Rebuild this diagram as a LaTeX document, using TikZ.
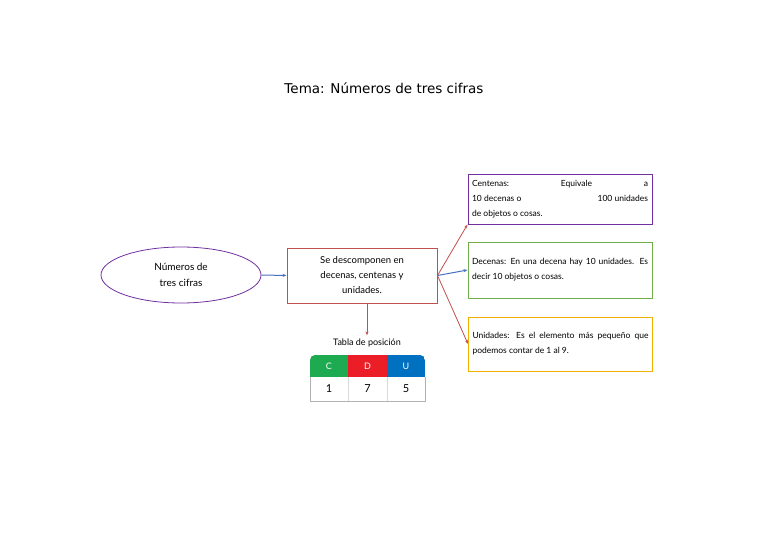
\documentclass[tikz,border=0pt]{standalone}
\usepackage{fontspec}
\setmainfont{Lato}
\newfontfamily\titlefont{DejaVu Sans}
\usetikzlibrary{shapes.geometric,positioning,arrows.meta}
\definecolor{cpurple}{RGB}{112,48,160}
\definecolor{cred}{RGB}{192,80,77}
\definecolor{cblue}{RGB}{68,114,196}
\definecolor{cgreen}{RGB}{112,173,71}
\definecolor{corange}{RGB}{240,176,0}
\definecolor{tgreen}{RGB}{30,170,80}
\definecolor{tred}{RGB}{235,30,40}
\definecolor{tblue}{RGB}{0,112,192}
\tikzset{
  infobox/.style={draw, line width=1pt, minimum width=184pt, text width=176pt, align=justify, inner sep=4pt, font=\fontsize{8.5}{15}\selectfont},
  redarrow/.style={draw=cred, line width=0.8pt, -{Stealth[length=4pt]}},
  bluearrow/.style={draw=cblue, line width=1pt, -{Stealth[length=4pt]}}
}
\begin{document}
\begin{tikzpicture}[x=1pt,y=-1pt]
\useasboundingbox (0,0) rectangle (768,543);
\node (title) at (384,88) {\titlefont\fontsize{13.5}{16}\selectfont Tema: Números de tres cifras};
\node[ellipse, draw=cpurple, line width=0.8pt, minimum width=160pt, minimum height=56pt, align=center, font=\fontsize{10}{16}\selectfont] (num) at (181,275) {Números de\\tres cifras};
\node[draw=cred, line width=1pt, minimum width=150pt, minimum height=55pt, align=center, font=\fontsize{9.5}{15}\selectfont] (desc) at (362,275.5) {Se descomponen en\\decenas, centenas y\\unidades.};
\node[infobox, draw=cpurple, minimum height=50pt] (cen) at (560,199) {Centenas:\hfill Equivale\hfill a\\10 decenas o\hfill 100 unidades\\de objetos o cosas.};
\node[infobox, draw=cgreen, minimum height=56pt] (dec) at (560,270) {Decenas: En una decena hay 10 unidades. Es decir 10 objetos o cosas.};
\node[infobox, draw=corange, minimum height=54pt] (uni) at (560.5,344) {Unidades: Es el elemento más pequeño que podemos contar de 1 al 9.};
\draw[bluearrow] (num.east) -- (desc.west);
\draw[redarrow] (desc.east) -- (cen.south west);
\draw[bluearrow] (desc.east) -- (dec.west);
\draw[redarrow] (desc.east) -- (uni.west);
\node[font=\fontsize{9}{11}\selectfont] (tabla) at (367,343) {Tabla de posición};
\draw[redarrow] (desc.south) ++(5,0) coordinate (ds) -- (ds |- tabla.north);
% tabla
\begin{scope}
\clip[rounded corners=5pt] (310,355) rectangle (425,410);
\fill[tgreen] (310,355) rectangle (348,377);
\fill[tred] (348,355) rectangle (387,377);
\fill[tblue] (387,355) rectangle (425,377);
\end{scope}
\draw[gray!60, line width=0.8pt] (310,377) -- (310,401) -- (425,401) -- (425,377);
\draw[gray!30] (348,377) -- (348,401) (387,377) -- (387,401);
\foreach \x/\h/\v in {329/C/1, 367.5/D/7, 406/U/5} {
  \node[text=white, font=\fontsize{9}{11}\selectfont] at (\x,366) {\h};
  \node[font=\rmfamily\fontsize{11}{13}\selectfont] at (\x,389) {\v};
}
\end{tikzpicture}
\end{document}
